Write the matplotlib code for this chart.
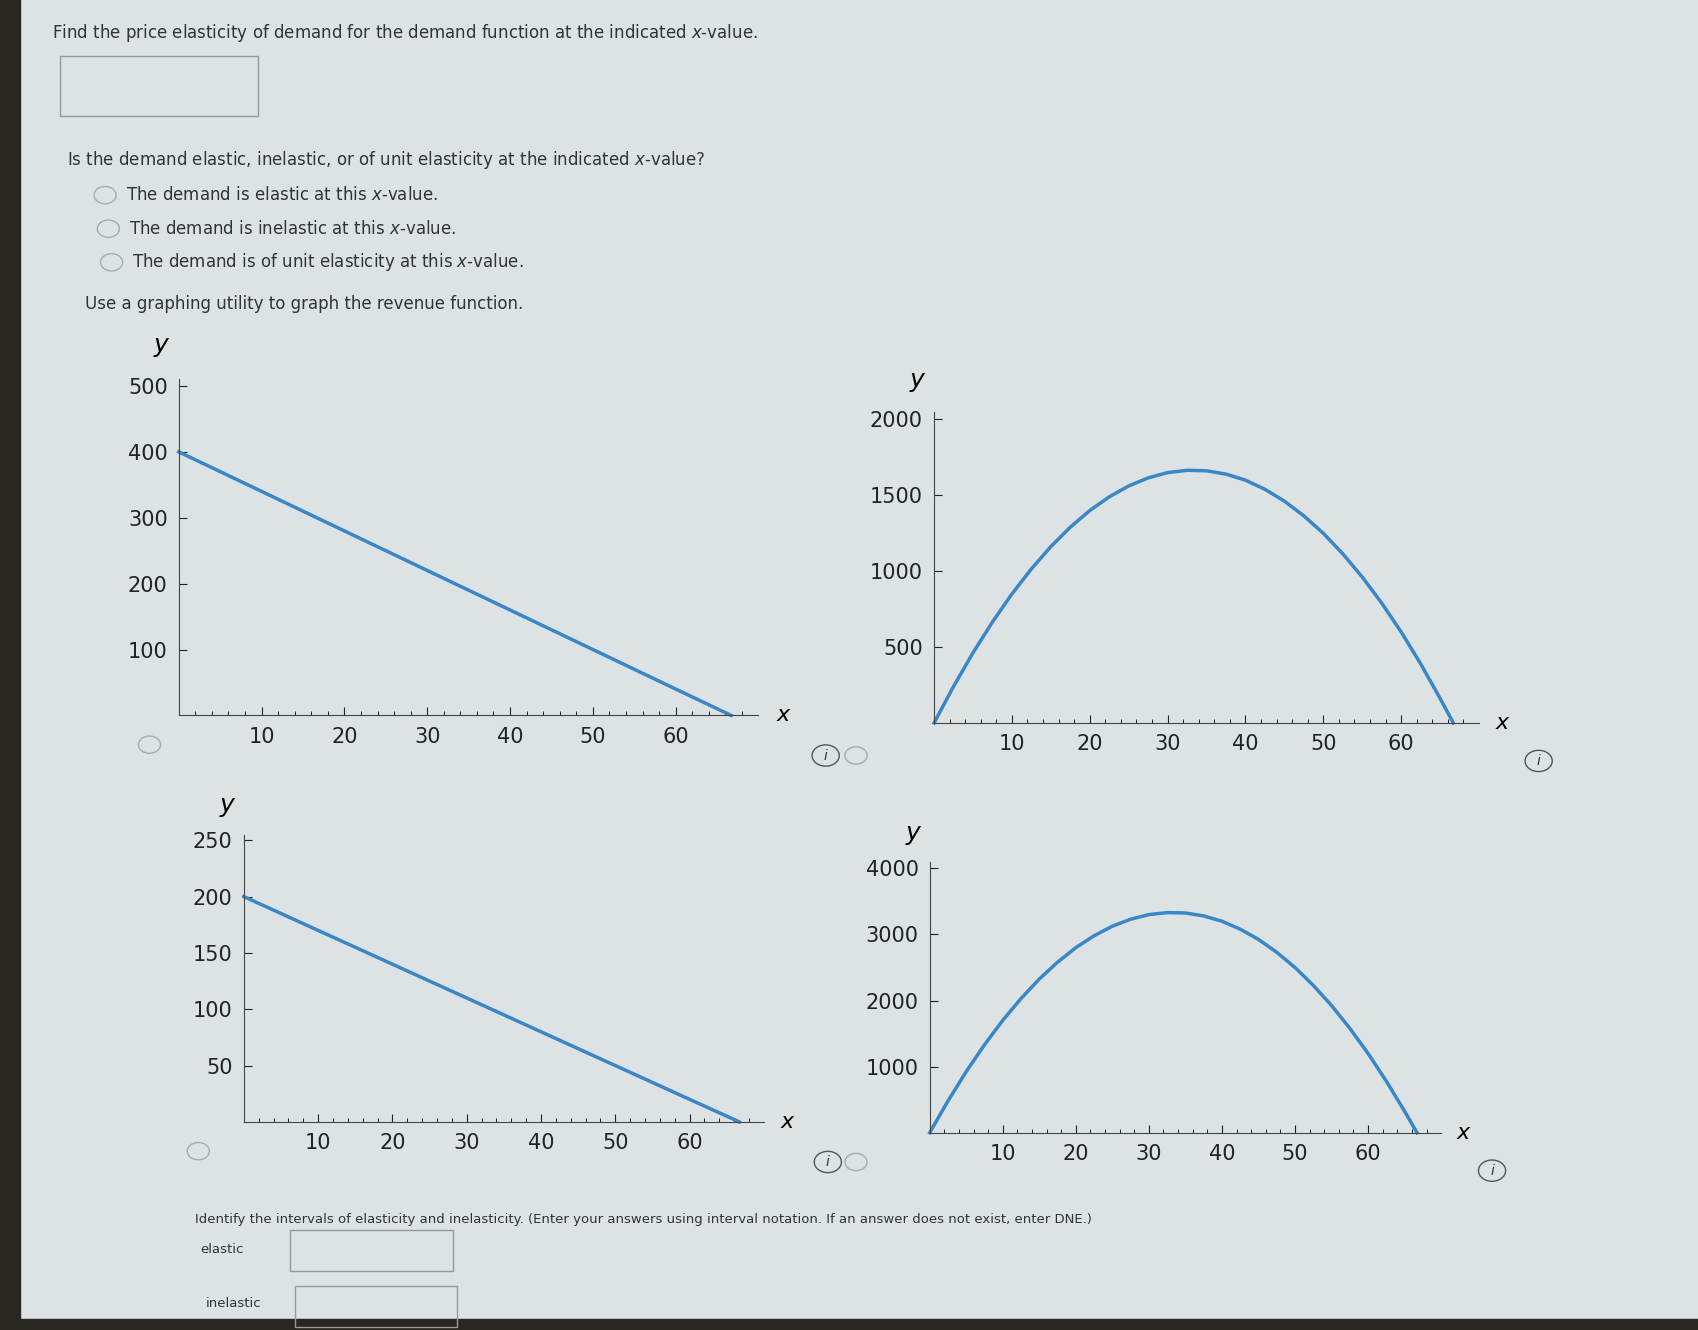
import matplotlib.pyplot as plt
from matplotlib.patches import Rectangle, Circle

# demand lines (price vs x)
demand_x = [0, 10, 20, 30, 40, 50, 60, 66.7]
demand_a = [400, 340, 280, 220, 160, 100, 40, 0]
demand_b = [200, 170, 140, 110, 80, 50, 20, 0]

# revenue curves
rev_x = [0, 2.5, 5, 7.5, 10, 12.5, 15, 17.5, 20, 22.5, 25, 27.5, 30, 32.5, 35, 37.5,
         40, 42.5, 45, 47.5, 50, 52.5, 55, 57.5, 60, 62.5, 65, 66.7]
rev_a = [0, 240, 462, 665, 850, 1015, 1162, 1290, 1400, 1490, 1562, 1615, 1650, 1665, 1662, 1640,
         1600, 1540, 1462, 1365, 1250, 1115, 962, 790, 600, 390, 162, 0]
rev_b = [0, 480, 925, 1330, 1700, 2030, 2325, 2580, 2800, 2980, 3125, 3230, 3300, 3330, 3325, 3280,
         3200, 3080, 2925, 2730, 2500, 2230, 1925, 1580, 1200, 780, 325, 0]

xticks = [10, 20, 30, 40, 50, 60]
W, H = 1568, 1227
bg = '#dde2e5'
blue = '#3a87c8'

fig = plt.figure(figsize=(16.99, 13.30), dpi=100)
fig.patch.set_facecolor(bg)
fig.patches.append(Rectangle((0, 0), 0.012, 1, transform=fig.transFigure, color='#2a2622', zorder=-1))
fig.patches.append(Rectangle((0, 0), 1, 0.008, transform=fig.transFigure, color='#2a2622', zorder=-1))


def T(x, y, s, **kw):
    kw.setdefault('fontsize', 12)
    kw.setdefault('color', '#333')
    fig.text(x / W, 1 - y / H, s, va='center', **kw)


T(48, 30, 'Find the price elasticity of demand for the demand function at the indicated $x$-value.')
fig.patches.append(Rectangle((55 / W, 1 - 107 / H), 183 / W, 55 / H, transform=fig.transFigure,
                             fill=False, ec='#999', lw=1))
T(62, 148, 'Is the demand elastic, inelastic, or of unit elasticity at the indicated $x$-value?')
for i, s in enumerate(['The demand is elastic at this $x$-value.',
                       'The demand is inelastic at this $x$-value.',
                       'The demand is of unit elasticity at this $x$-value.']):
    y = 180 + 31 * i
    T(116 + 3 * i, y, s)
    fig.patches.append(Circle(((97 + 3 * i) / W, 1 - y / H), 0.0065, transform=fig.transFigure,
                              fill=False, ec='#aaa'))
T(78, 280, 'Use a graphing utility to graph the revenue function.')
T(180, 1125, 'Identify the intervals of elasticity and inelasticity. (Enter your answers using interval notation. If an answer does not exist, enter DNE.)', fontsize=9.5)
T(185, 1153, 'elastic', fontsize=9.5)
T(190, 1203, 'inelastic', fontsize=9.5)
for bx, by in [(268, 1135), (272, 1186)]:
    fig.patches.append(Rectangle((bx / W, 1 - (by + 38) / H), 150 / W, 38 / H,
                                 transform=fig.transFigure, fill=False, ec='#999'))
for cx, cy in [(138, 687), (790, 697), (183, 1062), (790, 1072)]:
    fig.patches.append(Circle((cx / W, 1 - cy / H), 0.0065, transform=fig.transFigure, fill=False, ec='#aaa'))
for cx, cy in [(762, 697), (1420, 702), (764, 1072), (1377, 1080)]:
    fig.text(cx / W, 1 - cy / H, 'i', fontsize=10, style='italic', ha='center', va='center', color='#333')
    fig.patches.append(Circle((cx / W, 1 - cy / H), 0.008, transform=fig.transFigure, fill=False, ec='#555'))


def panel(rect, xs, ys, yticks, ymax):
    l, b, r, t = rect
    ax = fig.add_axes([l / W, 1 - b / H, (r - l) / W, (b - t) / H])
    ax.set_facecolor('none')
    ax.plot(xs, ys, color=blue, lw=2.5, clip_on=False)
    ax.set_xlim(0, 70)
    ax.set_ylim(0, ymax)
    for s in ['top', 'right']:
        ax.spines[s].set_visible(False)
    for s in ['left', 'bottom']:
        ax.spines[s].set_color('#444')
    ax.set_xticks(xticks)
    ax.set_yticks(yticks)
    ax.tick_params(labelsize=15, colors='#222', direction='in', length=6, pad=8)
    ax.set_xticks(range(2, 70, 2), minor=True)
    ax.tick_params(which='minor', direction='in', length=3)
    ax.text(1.03, 0, '$x$', transform=ax.transAxes, fontsize=16, va='center')
    ax.text(-0.03, 1.08, '$y$', transform=ax.transAxes, fontsize=18, ha='center')
    return ax


panel((165, 660, 700, 350), demand_x, demand_a, [100, 200, 300, 400, 500], 510)
panel((862, 667, 1365, 380), rev_x, rev_a, [500, 1000, 1500, 2000], 2050)
panel((225, 1035, 705, 770), demand_x, demand_b, [50, 100, 150, 200, 250], 255)
panel((858, 1045, 1330, 795), rev_x, rev_b, [1000, 2000, 3000, 4000], 4100)

fig.savefig('out.png', facecolor=fig.get_facecolor())
